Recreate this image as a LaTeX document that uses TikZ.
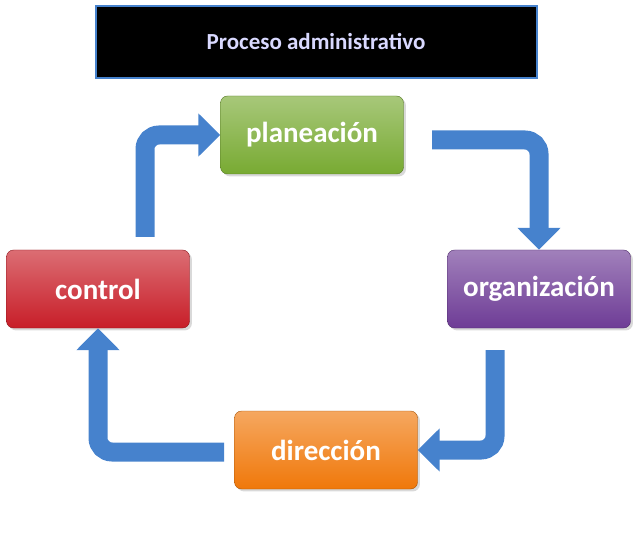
\documentclass[tikz,border=0pt]{standalone}
\usepackage{fontspec}
\setmainfont{Carlito}
\usetikzlibrary{arrows.meta,shadows}
\begin{document}
\begin{tikzpicture}[x=1pt,y=-1pt,
 box/.style={rounded corners=7pt,minimum width=183pt,minimum height=78pt,draw=#1!70!black,
   top color=#1!65!white,bottom color=#1,drop shadow={opacity=0.3},text=white,font=\fontsize{29}{31}\selectfont\bfseries},
 flow/.style={line width=19pt,draw=ab,rounded corners=14pt,-{Triangle[width=42pt,length=22pt]}}]
\definecolor{ab}{RGB}{70,130,205}
\useasboundingbox (0,0) rectangle (640,540);
\node[draw=ab,line width=2pt,fill=black,minimum width=441pt,minimum height=72pt,text=blue!15!white,font=\fontsize{23}{25}\selectfont\bfseries] (t) at (316,42) {Proceso administrativo};
\definecolor{gr}{RGB}{120,170,50}\definecolor{pu}{RGB}{110,60,150}\definecolor{re}{RGB}{200,30,40}\definecolor{or}{RGB}{240,120,10}
\node[box=gr] (p) at (312,135) {planeación};
\node[box=pu] (o) at (539,289) {organización};
\node[box=re] (c) at (98,289) {control};
\node[box=or] (d) at (326,450) {dirección};
\coordinate (a1) at (145,237); \coordinate (a2) at (432,140);
\coordinate (a3) at (495,350); \coordinate (a4) at (224,452);
\draw[flow] (a1) |- (p.west);
\draw[flow] (a2) -| (o.north);
\draw[flow] (a3) |- (d.east);
\draw[flow] (a4) -| (c.south);
\end{tikzpicture}
\end{document}
